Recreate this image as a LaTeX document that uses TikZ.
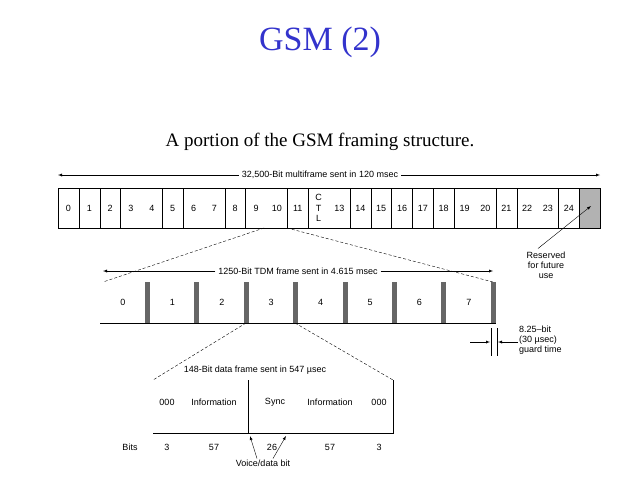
\documentclass[tikz,border=0pt]{standalone}
\usepackage{fontspec}
\setmainfont{Liberation Serif}
\setsansfont{Liberation Sans}
\usepackage{tikz,xcolor}
\usetikzlibrary{arrows, positioning}

\begin{document}
\begin{tikzpicture}[x=1pt, y=-1pt]

\definecolor{titleblue}{rgb}{0.2, 0.2, 0.8}
\definecolor{guardgray}{rgb}{0.4, 0.4, 0.4}

\tikzstyle{lbl} = [font=\sffamily\fontsize{9}{10}\selectfont, inner sep=1pt]
\tikzstyle{slot} = [draw, thin, minimum height=40pt, inner sep=0pt]
\tikzstyle{zoomline} = [densely dashed, thin]
\tikzstyle{arrow} = [-latex, thin]

\useasboundingbox (0,0) rectangle (640,480);

\node[font=\fontsize{34}{38}\selectfont, text=titleblue] (title) at (320,42) {GSM (2)};
\node[font=\fontsize{19}{22}\selectfont] (sub) at (320,142) {A portion of the GSM framing structure.};

% multiframe
\foreach \a/\b in {0/1,1/2,2/3,3/5,5/6,6/8,8/9,9/11,11/12,12/14,14/15,15/16,16/17,17/18,18/19,19/21,21/22,22/24,24/25}
  \node[slot, minimum width={(\b-\a)*20.85pt}] (m\a) at ({58+(\a+\b)/2*20.85},208) {};
\node[slot, fill=gray!60, minimum width=20.85pt] (res) at ({58+25.5*20.85},208) {};
\foreach \i in {0,...,11,13,14,...,24}
  \node[lbl] (n\i) at ({58+(\i+0.5)*20.85},208) {\i};
\node[lbl, align=center, font=\sffamily\fontsize{9}{10.5}\selectfont] (ctl) at ({58+12.5*20.85},208) {C\\T\\L};

\node[lbl, fill=white, inner sep=3pt] (mlab) at (320,175) {32,500-Bit multiframe sent in 120 msec};
\draw[arrow] (mlab.west) -- (58,175);
\draw[arrow] (mlab.east) -- (600,175);

\node[lbl, align=center] (reserved) at (546,265) {Reserved\\for future\\use};
\draw[arrow] (reserved.north) ++(-8,-2) -- (591,206);

% TDM frame
\coordinate (m10a) at (264,228);
\coordinate (m10b) at (287,228);
\coordinate (tl) at (103,282);
\coordinate (tr) at (493,282);
\draw[zoomline] (m10a) -- (tl);
\draw[zoomline] (m10b) -- (tr);
\node[lbl, fill=white, inner sep=3pt] (tlab) at (298,271) {1250-Bit TDM frame sent in 4.615 msec};
\draw[arrow] (tlab.west) -- (103,271);
\draw[arrow] (tlab.east) -- (493,271);

\draw[thin] (100,323) -- (496,323);
\foreach \k in {0,...,7}{
  \node[lbl] (t\k) at ({123+\k*49.4},302) {\k};
  \fill[guardgray] ({145+\k*49.4},282) rectangle ({150+\k*49.4},323);
}
\coordinate (g3l) at (246,323);
\coordinate (g3r) at (295,323);

% guard time
\draw[thin] (491,328) -- (491,356);
\draw[thin] (497,328) -- (497,356);
\coordinate (ga) at (470,342);
\coordinate (gb) at (518,342);
\draw[arrow] (ga) -- (490,342);
\draw[arrow] (gb) -- (498,342);
\node[lbl, align=left, anchor=west] (guard) at (518,340) {8.25--bit\\(30 µsec)\\guard time};

% data frame
\coordinate (dl) at (153,380);
\coordinate (dr) at (393,380);
\draw[zoomline] (g3l) -- (dl);
\draw[zoomline] (g3r) -- (dr);
\node[lbl] (dlab) at (255,370) {148-Bit data frame sent in 547 µsec};
\draw[thin] (153,433) -- (393,433) -- (393,380);
\draw[thin] (248,380) -- (248,433);

\node[lbl] (f1) at (167,402) {000};
\node[lbl] (f2) at (214,402) {Information};
\node[lbl] (f3) at (275,402) {Sync};
\node[lbl] (f4) at (330,402) {Information};
\node[lbl] (f5) at (379,402) {000};

\node[lbl] (bits) at (130,447) {Bits};
\node[lbl] (b1) at (167,447) {3};
\node[lbl] (b2) at (214,447) {57};
\node[lbl] (b3) at (272,447) {26};
\node[lbl] (b4) at (330,447) {57};
\node[lbl] (b5) at (379,447) {3};

\node[lbl] (voice) at (263,463) {Voice/data bit};
\draw[arrow] (voice.north) ++(-6,0) -- (250,436);
\draw[arrow] (voice.north) ++(10,0) -- (286,436);

\end{tikzpicture}
\end{document}
